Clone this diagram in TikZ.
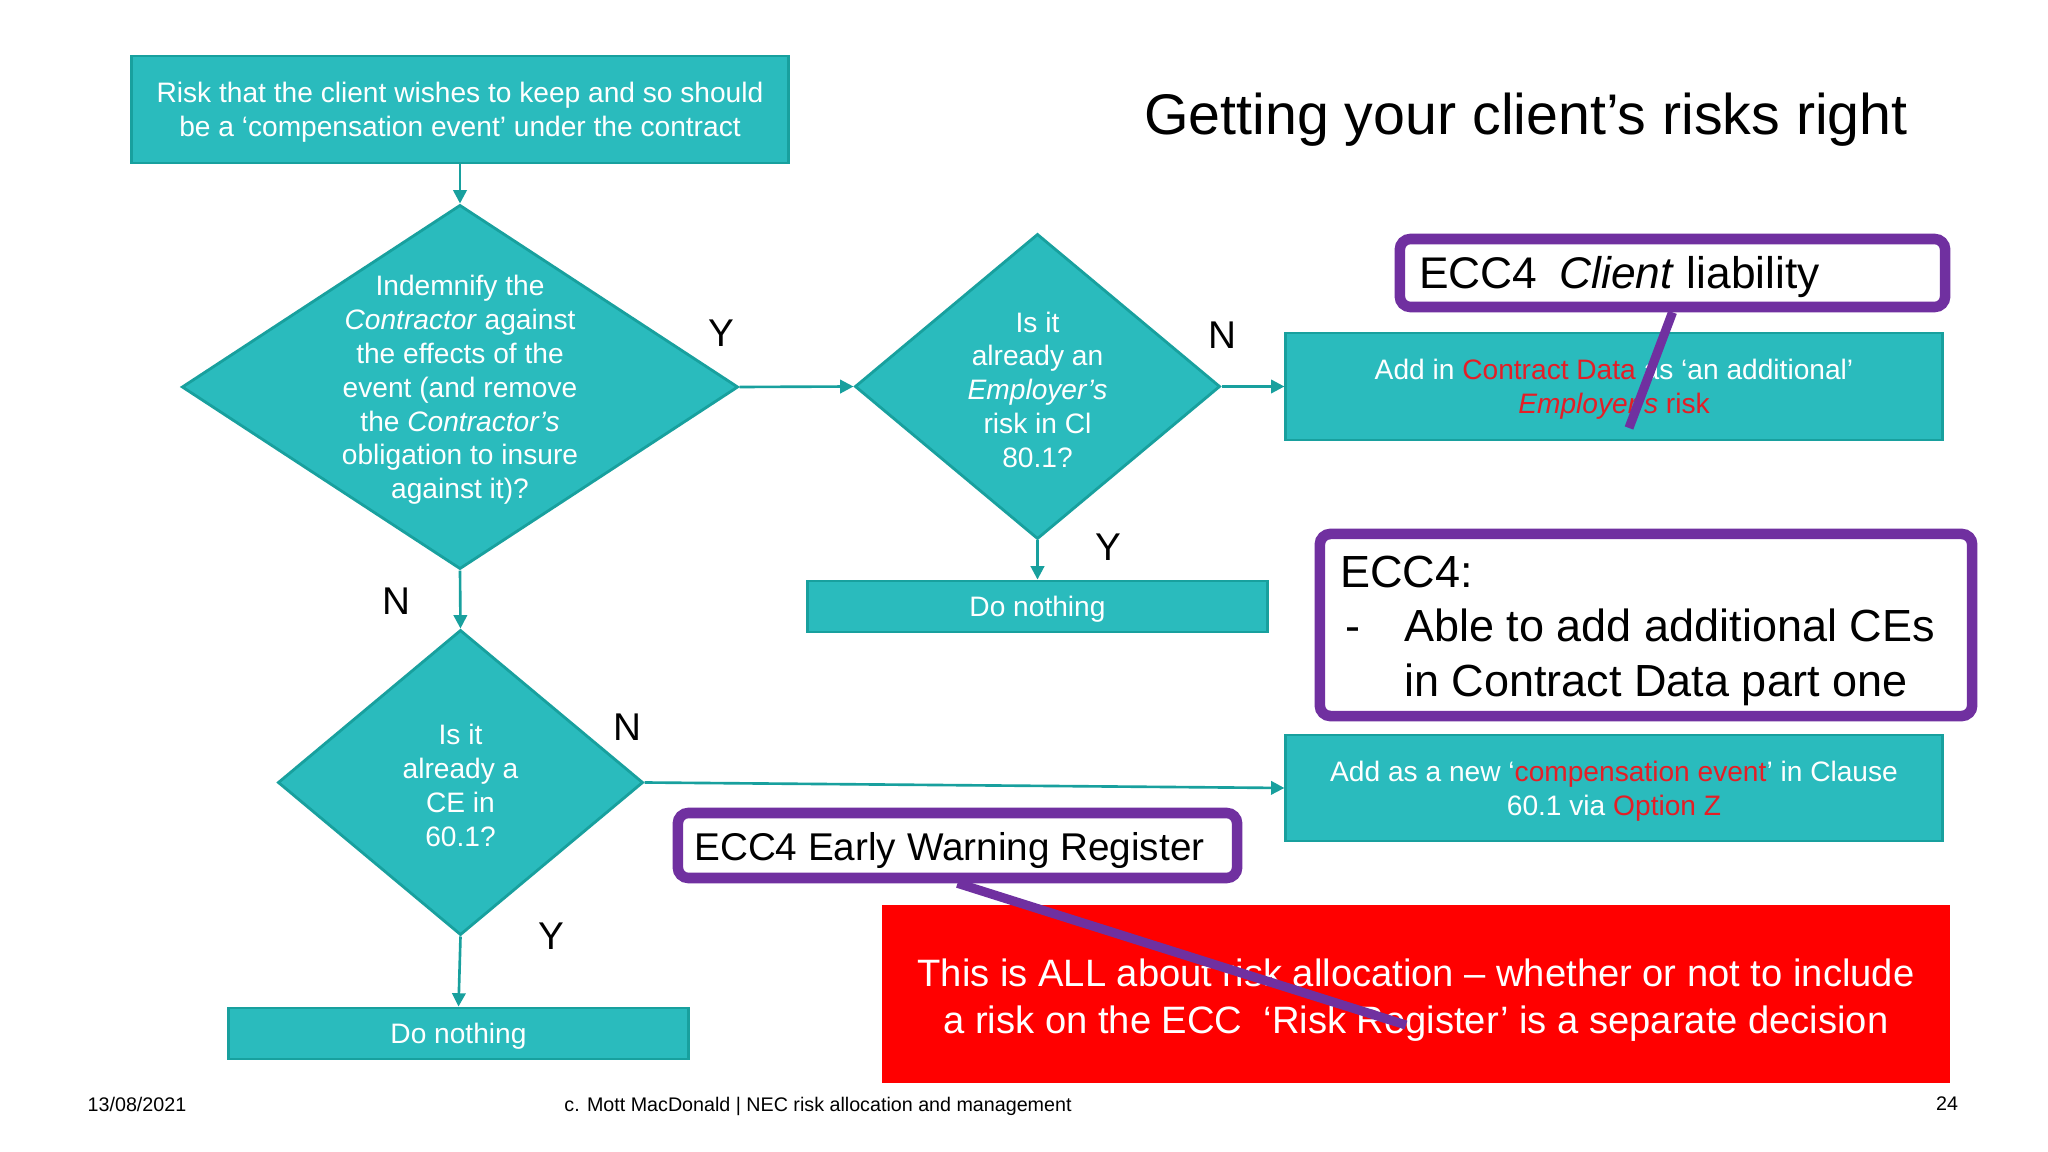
\documentclass[tikz,border=0pt]{standalone}
\usepackage{fontspec}
\setmainfont{Liberation Sans}
\usetikzlibrary{arrows.meta,shapes.geometric}
\definecolor{tealfill}{RGB}{42,187,189}
\definecolor{tealline}{RGB}{24,160,158}
\definecolor{ecpurple}{RGB}{112,48,160}
\definecolor{redtext}{RGB}{228,30,38}
\definecolor{boxred}{RGB}{255,0,0}
\newcommand{\flowfont}{\fontsize{8}{9.6}\selectfont}
\tikzset{
  tbox/.style={rectangle, fill=tealfill, draw=tealline, line width=0.8pt, inner sep=0pt},
  dia/.style={diamond, fill=tealfill, draw=tealline, line width=0.8pt, inner sep=0pt},
  dtext/.style={text=white, font=\flowfont, align=center, inner sep=0pt, yshift=-0.03cm},
  flow/.style={draw=tealline, line width=0.75pt, -{Triangle[length=3.8pt,width=3.8pt]}},
  yn/.style={font=\fontsize{11}{13}\selectfont, text=black, inner sep=0pt},
  pbox/.style={rectangle, draw=ecpurple, line width=3pt, rounded corners=3pt, fill=white, inner sep=0pt},
  ptext/.style={anchor=west, inner sep=0pt, text=black},
  pointer/.style={draw=ecpurple, line width=2.6pt},
  foot/.style={font=\fontsize{5.6}{6.7}\selectfont, text=black, inner sep=0pt}
}
\begin{document}
\begin{tikzpicture}[x=0.01cm,y=-0.01cm]
\useasboundingbox (0,0) rectangle (2048,1152);
\fill[white] (0,0) rectangle (2048,1152);

% flowchart
\node[tbox, minimum width=6.56cm, minimum height=1.07cm] (top) at (460,109.5) {};
\node[dtext] (topt) at (top.center)
  {Risk that the client wishes to keep and so should\\be a ‘compensation event’ under the contract};
\node[dia, minimum width=5.56cm, minimum height=3.64cm] (d1) at (460,387) {};
\node[dtext] (d1t) at (d1.center)
  {Indemnify the\\\textit{Contractor} against\\the effects of the\\event (and remove\\the \textit{Contractor’s}\\obligation to insure\\against it)?};
\node[dia, minimum width=3.65cm, minimum height=3.05cm] (d2) at (1037.5,386.5) {};
\node[dtext] (d2t) at (d2.center)
  {Is it\\already an\\\textit{Employer’s}\\risk in Cl\\80.1?};
\node[tbox, minimum width=6.56cm, minimum height=1.07cm] (addcd) at (1614,386.5) {};
\node[dtext] (addcdt) at (addcd.center)
  {Add in \textcolor{redtext}{Contract Data} as ‘an additional’\\\textcolor{redtext}{\textit{Employer’s} risk}};
\node[tbox, minimum width=4.59cm, minimum height=0.51cm] (dn2) at (1037.5,606.5) {};
\node[dtext] (dn2t) at (dn2.center) {Do nothing};
\node[dia, minimum width=3.65cm, minimum height=3.05cm] (d3) at (460.5,782.5) {};
\node[dtext] (d3t) at (d3.center) {Is it\\already a\\CE in\\60.1?};
\node[tbox, minimum width=6.56cm, minimum height=1.06cm] (addce) at (1614,788) {};
\node[dtext] (addcet) at (addce.center)
  {Add as a new ‘\textcolor{redtext}{compensation event}’ in Clause\\60.1 via \textcolor{redtext}{Option Z}};
\node[tbox, minimum width=4.6cm, minimum height=0.51cm] (dn1) at (458.5,1033.5) {};
\node[dtext] (dn1t) at (dn1.center) {Do nothing};

\draw[flow] (top.south) -- (d1.north);
\draw[flow] (d1.east) -- (d2.west);
\draw[flow] (d2.east) -- (addcd.west);
\draw[flow] (d2.south) -- (dn2.north);
\draw[flow] (d1.south) -- (d3.north);
\draw[flow] (d3.east) -- (addce.west);
\draw[flow] (d3.south) -- (dn1.north);

\node[yn] (y1) at (721,333) {Y};
\node[yn] (n1) at (1222,335) {N};
\node[yn] (y2) at (1108,547) {Y};
\node[yn] (n2) at (396,601) {N};
\node[yn] (n3) at (627,727) {N};
\node[yn] (y3) at (551,936) {Y};

% title
\node[font=\fontsize{16.3}{19.5}\selectfont, inner sep=0pt] (title) at (1526,120) {Getting your client’s risks right};

% red note
\node[fill=boxred, minimum width=10.68cm, minimum height=1.78cm, inner sep=0pt] (note) at (1416,994) {};
\node[text=white, align=center, inner sep=0pt, font=\fontsize{10.85}{13.4}\selectfont, yshift=-0.065cm] (notet) at (note.center)
  {This is ALL about risk allocation – whether or not to include\\a risk on the ECC\ \ ‘Risk Register’ is a separate decision};

% purple callouts
\node[pbox, minimum width=5.45cm, minimum height=0.68cm] (cl) at (1672.5,273) {};
\node[ptext, font=\fontsize{12.6}{15.1}\selectfont] (clt) at ([xshift=0.24cm,yshift=-0.045cm]cl.west) {ECC4\hspace{0.5em}\textit{Client} liability};

\node[pbox, minimum width=6.52cm, minimum height=1.82cm] (ecc) at (1646,625) {};
\node[ptext, align=left, font=\fontsize{12.8}{15.5}\selectfont] (ecct) at ([xshift=0.25cm,yshift=-0.055cm]ecc.west)
  {ECC4:\\\makebox[0.64cm][l]{\hspace{0.05cm}-}Able to add additional CEs\\\hspace*{0.64cm}in Contract Data part one};

\node[pbox, minimum width=5.59cm, minimum height=0.65cm] (ew) at (957.5,845.5) {};
\node[ptext, font=\fontsize{11}{13.2}\selectfont] (ewt) at ([xshift=0.21cm,yshift=-0.045cm]ew.west) {ECC4 Early Warning Register};

\coordinate (clp) at (1629,428);
\coordinate (ewp) at (1406,1025);
\draw[pointer] (cl.south) -- (clp);
\draw[pointer] (ew.south) -- (ewp);

% footer
\node[foot] (date) at (137,1104) {13/08/2021};
\node[foot] (credit) at (818,1106) {c. Mott MacDonald | NEC risk allocation and management};
\node[foot] (page) at (1947,1104) {24};
\end{tikzpicture}
\end{document}
